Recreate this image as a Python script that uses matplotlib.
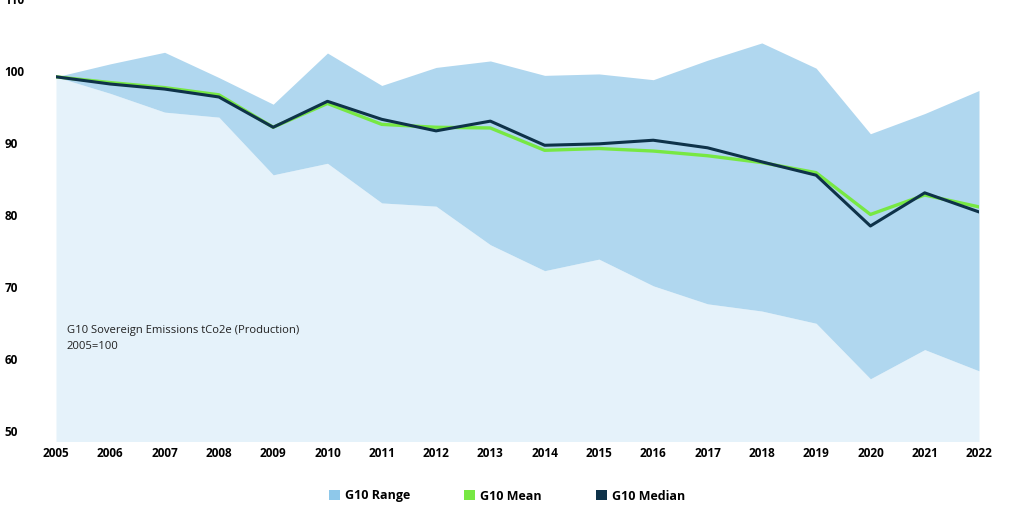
import matplotlib
matplotlib.use("Agg")
import matplotlib.pyplot as plt
from matplotlib.patches import Patch

years = list(range(2005, 2023))
range_max = [99.2, 101.0, 102.6, 99.1, 95.4, 102.5, 98.0, 100.5, 101.4, 99.4,
             99.6, 98.8, 101.5, 103.9, 100.4, 91.3, 94.1, 97.3]
range_min = [99.2, 96.9, 94.3, 93.6, 85.6, 87.2, 81.7, 81.25, 75.9, 72.3,
             73.9, 70.2, 67.7, 66.7, 65.0, 57.3, 61.35, 58.4]
g10_mean = [99.2, 98.4, 97.7, 96.7, 92.2, 95.5, 92.6, 92.2, 92.1, 89.0,
            89.25, 88.9, 88.25, 87.3, 85.9, 80.1, 82.8, 81.15]
g10_median = [99.2, 98.2, 97.5, 96.4, 92.2, 95.8, 93.3, 91.7, 93.05, 89.7,
              89.9, 90.4, 89.35, 87.4, 85.55, 78.5, 83.1, 80.45]
yticks = [50, 60, 70, 80, 90, 100, 110]

C_RANGE = "#B0D7EF"
C_BASE = "#E5F2FA"
C_SWATCH = "#8EC8EA"
C_MEAN = "#77E843"
C_MEDIAN = "#0E3249"

plt.rcParams["font.family"] = ["Open Sans", "DejaVu Sans"]

fig = plt.figure(figsize=(10.24, 5.12), dpi=100)
# axes spans x 56..979 px, y -5..441.5 px
ax = fig.add_axes([56 / 1024, (512 - 441.5) / 512, (979 - 56) / 1024, (441.5 + 5) / 512])
ylo, yhi = 48.6, 110.55
ax.set_xlim(2005, 2022)
ax.set_ylim(ylo, yhi)

ax.fill_between(years, ylo, range_min, color=C_BASE, lw=0, zorder=1)
ax.fill_between(years, range_min, range_max, color=C_RANGE, lw=0, zorder=2)
ax.plot(years, g10_mean, color=C_MEAN, lw=2.4, zorder=3)
ax.plot(years, g10_median, color=C_MEDIAN, lw=2.2, zorder=4)

for s in ax.spines.values():
    s.set_visible(False)
ax.set_xticks(years)
ax.set_xticklabels([str(y) for y in years], fontsize=8.5, fontweight="bold")
ax.set_yticks(yticks)
ax.set_yticklabels([str(v) for v in yticks], fontsize=8.5, fontweight="bold")
for lab in ax.get_yticklabels():
    lab.set_horizontalalignment("left")
ax.tick_params(axis="y", length=0, pad=37)
ax.tick_params(axis="x", length=0, pad=4)

ax.text(2005.2, 62.9, "G10 Sovereign Emissions tCo2e (Production)\n2005=100",
        fontsize=8.1, color="#222222", va="center", ha="left", linespacing=1.6, zorder=5)

handles = [
    Patch(facecolor=C_SWATCH, edgecolor="none", label="G10 Range"),
    Patch(facecolor=C_MEAN, edgecolor="none", label="G10 Mean"),
    Patch(facecolor=C_MEDIAN, edgecolor="none", label="G10 Median"),
]
fig.legend(handles=handles, loc="center", bbox_to_anchor=(507 / 1024, 1 - 496 / 512),
           ncol=3, frameon=False, handlelength=0.9, handleheight=0.9,
           handletextpad=0.4, columnspacing=4.3,
           prop={"weight": "bold", "size": 9})

fig.savefig("out.png", dpi=100)
